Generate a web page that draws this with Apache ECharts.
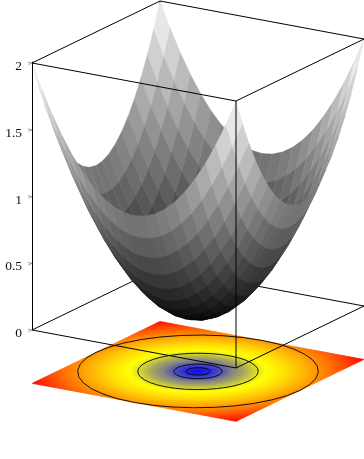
<!DOCTYPE html>
<html>
<head>
<meta charset="utf-8">
<style>html,body{margin:0;padding:0;background:#fff}#c{width:364px;height:459px}</style>
<script src="https://cdn.jsdelivr.net/npm/echarts@6/dist/echarts.min.js"></script>
</head>
<body>
<div id="c"></div>
<script>
// ---- data ----
const uValues = [-1,-0.9,-0.8,-0.7,-0.6,-0.5,-0.4,-0.3,-0.2,-0.1,0,0.1,0.2,0.3,0.4,0.5,0.6,0.7,0.8,0.9,1];
const vValues = [-1,-0.9,-0.8,-0.7,-0.6,-0.5,-0.4,-0.3,-0.2,-0.1,0,0.1,0.2,0.3,0.4,0.5,0.6,0.7,0.8,0.9,1];
const zValues = [
[2,1.81,1.64,1.49,1.36,1.25,1.16,1.09,1.04,1.01,1,1.01,1.04,1.09,1.16,1.25,1.36,1.49,1.64,1.81,2],
[1.81,1.62,1.45,1.3,1.17,1.06,0.97,0.9,0.85,0.82,0.81,0.82,0.85,0.9,0.97,1.06,1.17,1.3,1.45,1.62,1.81],
[1.64,1.45,1.28,1.13,1,0.89,0.8,0.73,0.68,0.65,0.64,0.65,0.68,0.73,0.8,0.89,1,1.13,1.28,1.45,1.64],
[1.49,1.3,1.13,0.98,0.85,0.74,0.65,0.58,0.53,0.5,0.49,0.5,0.53,0.58,0.65,0.74,0.85,0.98,1.13,1.3,1.49],
[1.36,1.17,1,0.85,0.72,0.61,0.52,0.45,0.4,0.37,0.36,0.37,0.4,0.45,0.52,0.61,0.72,0.85,1,1.17,1.36],
[1.25,1.06,0.89,0.74,0.61,0.5,0.41,0.34,0.29,0.26,0.25,0.26,0.29,0.34,0.41,0.5,0.61,0.74,0.89,1.06,1.25],
[1.16,0.97,0.8,0.65,0.52,0.41,0.32,0.25,0.2,0.17,0.16,0.17,0.2,0.25,0.32,0.41,0.52,0.65,0.8,0.97,1.16],
[1.09,0.9,0.73,0.58,0.45,0.34,0.25,0.18,0.13,0.1,0.09,0.1,0.13,0.18,0.25,0.34,0.45,0.58,0.73,0.9,1.09],
[1.04,0.85,0.68,0.53,0.4,0.29,0.2,0.13,0.08,0.05,0.04,0.05,0.08,0.13,0.2,0.29,0.4,0.53,0.68,0.85,1.04],
[1.01,0.82,0.65,0.5,0.37,0.26,0.17,0.1,0.05,0.02,0.01,0.02,0.05,0.1,0.17,0.26,0.37,0.5,0.65,0.82,1.01],
[1,0.81,0.64,0.49,0.36,0.25,0.16,0.09,0.04,0.01,0,0.01,0.04,0.09,0.16,0.25,0.36,0.49,0.64,0.81,1],
[1.01,0.82,0.65,0.5,0.37,0.26,0.17,0.1,0.05,0.02,0.01,0.02,0.05,0.1,0.17,0.26,0.37,0.5,0.65,0.82,1.01],
[1.04,0.85,0.68,0.53,0.4,0.29,0.2,0.13,0.08,0.05,0.04,0.05,0.08,0.13,0.2,0.29,0.4,0.53,0.68,0.85,1.04],
[1.09,0.9,0.73,0.58,0.45,0.34,0.25,0.18,0.13,0.1,0.09,0.1,0.13,0.18,0.25,0.34,0.45,0.58,0.73,0.9,1.09],
[1.16,0.97,0.8,0.65,0.52,0.41,0.32,0.25,0.2,0.17,0.16,0.17,0.2,0.25,0.32,0.41,0.52,0.65,0.8,0.97,1.16],
[1.25,1.06,0.89,0.74,0.61,0.5,0.41,0.34,0.29,0.26,0.25,0.26,0.29,0.34,0.41,0.5,0.61,0.74,0.89,1.06,1.25],
[1.36,1.17,1,0.85,0.72,0.61,0.52,0.45,0.4,0.37,0.36,0.37,0.4,0.45,0.52,0.61,0.72,0.85,1,1.17,1.36],
[1.49,1.3,1.13,0.98,0.85,0.74,0.65,0.58,0.53,0.5,0.49,0.5,0.53,0.58,0.65,0.74,0.85,0.98,1.13,1.3,1.49],
[1.64,1.45,1.28,1.13,1,0.89,0.8,0.73,0.68,0.65,0.64,0.65,0.68,0.73,0.8,0.89,1,1.13,1.28,1.45,1.64],
[1.81,1.62,1.45,1.3,1.17,1.06,0.97,0.9,0.85,0.82,0.81,0.82,0.85,0.9,0.97,1.06,1.17,1.3,1.45,1.62,1.81],
[2,1.81,1.64,1.49,1.36,1.25,1.16,1.09,1.04,1.01,1,1.01,1.04,1.09,1.16,1.25,1.36,1.49,1.64,1.81,2]
];
const zTicks = [0,0.5,1,1.5,2];
const zTickLabels = ['0','0.5','1','1.5','2'];
const planeZ = -0.4;
const contourRadii = [1,0.5,0.2,0.1];
const ringCos = [1,0.985,0.94,0.866,0.766,0.643,0.5,0.342,0.174,0,-0.174,-0.342,-0.5,-0.643,-0.766,-0.866,-0.94,-0.985,-1,-0.985,-0.94,-0.866,-0.766,-0.643,-0.5,-0.342,-0.174,0,0.174,0.342,0.5,0.643,0.766,0.866,0.94,0.985,1];
const ringSin = [0,0.174,0.342,0.5,0.643,0.766,0.866,0.94,0.985,1,0.985,0.94,0.866,0.766,0.643,0.5,0.342,0.174,0,-0.174,-0.342,-0.5,-0.643,-0.766,-0.866,-0.94,-0.985,-1,-0.985,-0.94,-0.866,-0.766,-0.643,-0.5,-0.342,-0.174,0];
// colour of the floor map against the surface height
const hotStops = [[0,[0,0,255]],[0.01,[31,31,224]],[0.04,[77,77,179]],[0.084,[128,128,128]],[0.25,[224,224,31]],[0.325,[255,255,0]],[1.1,[255,128,0]],[2,[255,0,0]]];

// ---- projection of (u,v,z) on the two axes (orthographic view) ----
const PX_PER_Z = 133.5;
const horU = 102/PX_PER_Z, horV = 64/PX_PER_Z;
const vertU = -19/PX_PER_Z, vertV = 31/PX_PER_Z, vert0 = 11/PX_PER_Z;
const project = (u,v,z) => [horU*u + horV*v, vert0 + vertU*u + vertV*v + z];
const xExtent = horU + horV;

const hot = z => {
  z = Math.max(0, Math.min(2, z));
  for (let k = 1; k < hotStops.length; k++) {
    if (z <= hotStops[k][0]) {
      const a = hotStops[k-1], b = hotStops[k], f = (z-a[0])/(b[0]-a[0]);
      return 'rgb(' + a[1].map((c,n) => Math.round(c+(b[1][n]-c)*f)).join(',') + ')';
    }
  }
  return 'rgb(255,0,0)';
};
const gray = t => { const g = Math.round(255*t); return 'rgb('+g+','+g+','+g+')'; };

// cells, from the far corner (u=-1, v=+1) to the near one
const cells = [];
for (let j = vValues.length-2; j >= 0; j--) {
  for (let i = 0; i < uValues.length-1; i++) {
    const p = project(uValues[i], vValues[j], 0);
    cells.push([p[0], p[1], i, j]);
  }
}

function renderSurface(params, api) {
  const i = api.value(2), j = api.value(3);
  const pts = [[i,j],[i+1,j],[i+1,j+1],[i,j+1]];
  let sum = 0;
  const points = pts.map(([a,b]) => {
    sum += zValues[b][a];
    return api.coord(project(uValues[a], vValues[b], zValues[b][a]));
  });
  const col = gray(sum/4/2);
  return {type:'polygon', shape:{points}, style:{fill:col, stroke:col, lineWidth:0.4}};
}

const SUB = 6;
function renderPlane(params, api) {
  const i = api.value(2), j = api.value(3);
  const du = uValues[i+1]-uValues[i], dv = vValues[j+1]-vValues[j];
  const z00 = zValues[j][i], z10 = zValues[j][i+1], z01 = zValues[j+1][i], z11 = zValues[j+1][i+1];
  const children = [];
  for (let a = 0; a < SUB; a++) for (let b = 0; b < SUB; b++) {
    const fa = (a+0.5)/SUB, fb = (b+0.5)/SUB;
    const val = z00*(1-fa)*(1-fb) + z10*fa*(1-fb) + z01*(1-fa)*fb + z11*fa*fb;
    const col = hot(val);
    const corner = (x,y) => api.coord(project(uValues[i]+du*x/SUB, vValues[j]+dv*y/SUB, planeZ));
    children.push({type:'polygon', shape:{points:[corner(a,b),corner(a+1,b),corner(a+1,b+1),corner(a,b+1)]},
      style:{fill:col, stroke:col, lineWidth:0.4}});
  }
  return {type:'group', children};
}

// box edges and contour rings as lists of (u,v,z) polylines
const backEdges = [
  [[-1,-1,0],[-1,1,0],[1,1,0]],
  [[-1,1,0],[-1,1,2]]
];
const floorEdges = [
  [[-1,-1,0],[1,-1,0],[1,1,0]]
];
const topEdges = [
  [[-1,-1,2],[-1,1,2],[1,1,2],[1,-1,2],[-1,-1,2]],
  [[1,-1,0],[1,-1,2]]
];
const rings = contourRadii.map(r => ringCos.map((c,k) => [r*c, r*ringSin[k], planeZ]));
const tickDU = 0.04, tickDV = 0.055;
const tickLines = zTicks.map(z => [[-1-tickDU,-1,z],[-1,-1,z],[-1,-1-tickDV,z]]);

function lineSeries(lines, zIndex, color, width) {
  return {
    type:'custom', coordinateSystem:'cartesian2d', z:zIndex, silent:true, clip:false,
    encode:{x:0,y:1},
    data: lines.map((l,n) => { const p = project(...l[0]); return [p[0],p[1],n]; }),
    renderItem(params, api) {
      const l = lines[api.value(2)];
      return {type:'polyline', shape:{points:l.map(q => api.coord(project(...q)))},
        style:{fill:'none', stroke:color, lineWidth:width, lineJoin:'round'}};
    }
  };
}

const chart = echarts.init(document.getElementById('c'), null, {renderer:'canvas'});
chart.setOption({
  animation:false,
  backgroundColor:'#fff',
  grid:{left:32, top:62, width:332, height:267, containLabel:false},
  xAxis:{type:'value', min:-xExtent, max:xExtent, show:false},
  yAxis:{
    type:'value', min:0, max:2, interval:0.5, z:10,
    axisLine:{show:true, onZero:false, lineStyle:{color:'#000', width:1}},
    axisTick:{show:false},
    splitLine:{show:false},
    axisLabel:{
      margin:10, fontFamily:'"Liberation Serif", serif', fontSize:13.5, color:'#111',
      verticalAlign:'top', lineHeight:9,
      formatter:v => zTickLabels[zTicks.indexOf(v)]
    }
  },
  series:[
    lineSeries(backEdges, 2, '#000', 1),
    {type:'custom', coordinateSystem:'cartesian2d', z:3, silent:true, clip:false, encode:{x:0,y:1},
     data:cells, renderItem:renderPlane},
    lineSeries(rings, 4, '#000', 0.9),
    lineSeries(floorEdges, 5, '#000', 1),
    {type:'custom', coordinateSystem:'cartesian2d', z:6, silent:true, clip:false, encode:{x:0,y:1},
     data:cells, renderItem:renderSurface},
    lineSeries(topEdges, 7, '#000', 1),
    lineSeries(tickLines, 8, '#888', 0.8)
  ]
});
</script>
</body>
</html>
